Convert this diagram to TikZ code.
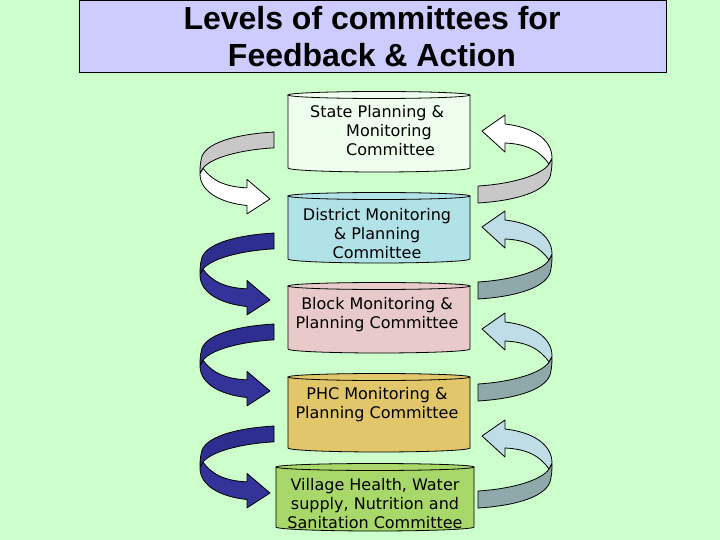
\documentclass[tikz,border=0pt]{standalone}
\usepackage{fontspec}
\setmainfont{DejaVu Sans}
\newfontfamily\titlefont{Liberation Sans}

\definecolor{bg}{HTML}{CCFFCC}
\definecolor{titlefill}{HTML}{CCCCFF}
\definecolor{statefill}{HTML}{EEFFEE}
\definecolor{districtfill}{HTML}{B0E2E8}
\definecolor{blockfill}{HTML}{E8CACA}
\definecolor{phcfill}{HTML}{E2C66A}
\definecolor{villagefill}{HTML}{A8D86A}
\definecolor{navy}{HTML}{333399}
\definecolor{navyback}{HTML}{2E2E90}
\definecolor{paleblue}{HTML}{BFDDE6}
\definecolor{slateback}{HTML}{8FA8AA}
\definecolor{greyback}{HTML}{C8C8C8}

\tikzset{
  arrowline/.style={draw=black, line width=0.8pt, line join=round},
  boxline/.style={draw=black, line width=0.8pt},
  boxtext/.style={font=\fontsize{16}{19}\selectfont, inner sep=0pt, text=black},
  titletext/.style={font=\titlefont\bfseries\fontsize{32}{37}\selectfont, inner sep=0pt, align=center}
}

% #1 transform, #2 front colour, #3 back colour
\newcommand\ribbonarrow[3]{%
  \begin{scope}[#1]
    \filldraw[arrowline, fill=#3] (70,28) .. controls (70,38) and (69,42) .. (68,46)
      .. controls (62,62) and (30,70) .. (-4,72) -- (-4,55)
      .. controls (30,53) and (60,44) .. (67,33) -- cycle;
    \filldraw[arrowline, fill=#2] (0,0) -- (23,-16) -- (23,-7)
      .. controls (50,-4) and (70,8) .. (70,27) -- (67,33)
      .. controls (58,20) and (45,13) .. (23,12) -- (23,21) -- cycle;
  \end{scope}}

% #1 x1, #2 x2, #3 ytop, #4 ybottom, #5 fill
\newcommand\cylbox[5]{%
  \pgfmathsetmacro\cxm{(#1+#2)/2}%
  \pgfmathsetmacro\crx{(#2-#1)/2}%
  \pgfmathsetmacro\cyc{#3+4}%
  \pgfmathsetmacro\ckx{0.5523*\crx}%
  \filldraw[boxline, fill=#5] (#1,\cyc) -- (#1,#4)
    .. controls (#1,#4+2.2) and (\cxm-\ckx,#4+4) .. (\cxm,#4+4)
    .. controls (\cxm+\ckx,#4+4) and (#2,#4+2.2) .. (#2,#4) -- (#2,\cyc);
  \filldraw[boxline, fill=#5] (\cxm,\cyc) ellipse [x radius=\crx, y radius=3.5];
}

\begin{document}
\begin{tikzpicture}[x=1pt, y=-1pt]
  \useasboundingbox (0,0) rectangle (720,540);
  \fill[bg] (0,0) rectangle (720,540);

  % title
  \node[draw=black, line width=0.8pt, fill=titlefill, minimum width=587pt,
        minimum height=71.5pt, inner sep=0pt, anchor=north west] (titlebox) at (79,0.5) {};
  \node[titletext, anchor=north] (title) at (372,6.5)
    {Levels of committees for\\Feedback \& Action};

  % committee boxes
  \cylbox{288}{470}{91}{168}{statefill}
  \cylbox{288}{470}{192}{259}{districtfill}
  \cylbox{288}{470}{282}{349}{blockfill}
  \cylbox{288}{470}{373}{448}{phcfill}
  \cylbox{276}{474}{463}{527}{villagefill}

  \node[boxtext, anchor=north west, align=left] (state) at (310,105.5)
    {State Planning \&\\\hspace*{36pt}Monitoring\\\hspace*{36pt}Committee};
  \node[boxtext, anchor=north, align=center] (district) at (377,208.5)
    {District Monitoring\\\& Planning\\Committee};
  \node[boxtext, anchor=north, align=center] (block) at (377,297.5)
    {Block Monitoring \&\\Planning Committee};
  \node[boxtext, anchor=north, align=center] (phc) at (377,387.5)
    {PHC Monitoring \&\\Planning Committee};
  \node[boxtext, anchor=north, align=center] (village) at (375,478.5)
    {Village Health, Water\\supply, Nutrition and\\Sanitation Committee};

  % right (upward feedback) arrows
  \ribbonarrow{shift={(482,131)}}{white}{greyback}
  \ribbonarrow{shift={(482,227)}}{paleblue}{slateback}
  \ribbonarrow{shift={(482,329)}}{paleblue}{slateback}
  \ribbonarrow{shift={(482,436)}}{paleblue}{slateback}

  % left (downward action) arrows
  \ribbonarrow{shift={(270,199)}, xscale=-1, yscale=-0.93}{white}{greyback}
  \ribbonarrow{shift={(270,300)}, xscale=-1, yscale=-0.93}{navy}{navyback}
  \ribbonarrow{shift={(270,391)}, xscale=-1, yscale=-0.93}{navy}{navyback}
  \ribbonarrow{shift={(270,493)}, xscale=-1, yscale=-0.93}{navy}{navyback}
\end{tikzpicture}
\end{document}
